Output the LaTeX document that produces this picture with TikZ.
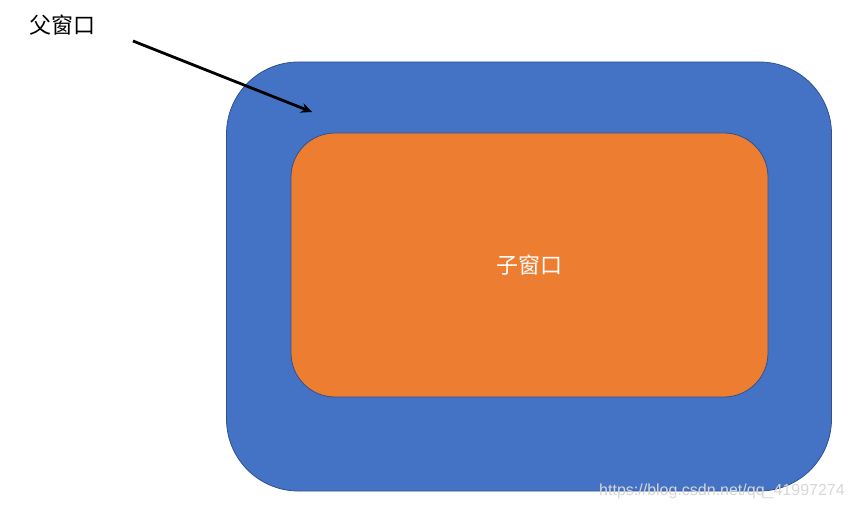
\documentclass[tikz,border=0pt]{standalone}
\usepackage{fontspec}
\setmainfont{Liberation Sans}
\newfontfamily\cjk{Noto Sans CJK SC}
\usetikzlibrary{arrows.meta}
\definecolor{pblue}{HTML}{4472C4}
\definecolor{porange}{HTML}{ED7D31}
\definecolor{pline}{HTML}{2F528F}
\definecolor{wmark}{RGB}{215,215,215}
\tikzset{
  winbox/.style={draw=pline, line width=0.8pt, rounded corners=#1, inner sep=0pt},
  cjklabel/.style={font=\cjk\fontsize{22}{26}\selectfont, inner sep=0pt},
  pointer/.style={line width=2.8pt, -{Stealth[length=11pt,width=10pt]}}
}
\begin{document}
\begin{tikzpicture}[x=1pt,y=-1pt]
\useasboundingbox (0,0) rectangle (854,510);
\node[winbox=72pt, fill=pblue, minimum width=605pt, minimum height=429pt] (parent) at (529,276.5) {};
\node[winbox=44pt, fill=porange, minimum width=477pt, minimum height=264pt, cjklabel, text=white] (child) at (529.5,265) {子窗口};
\node[cjklabel, text=black] (plabel) at (62,25) {父窗口};
\coordinate (astart) at (133,41);
\coordinate (aend) at (312,112);
\draw[pointer] (astart) -- (aend);
\node[font=\fontsize{16}{19}\selectfont, text=wmark, inner sep=0pt] (wm) at (722,491) {https://blog.csdn.net/qq\_41997274};
\end{tikzpicture}
\end{document}
